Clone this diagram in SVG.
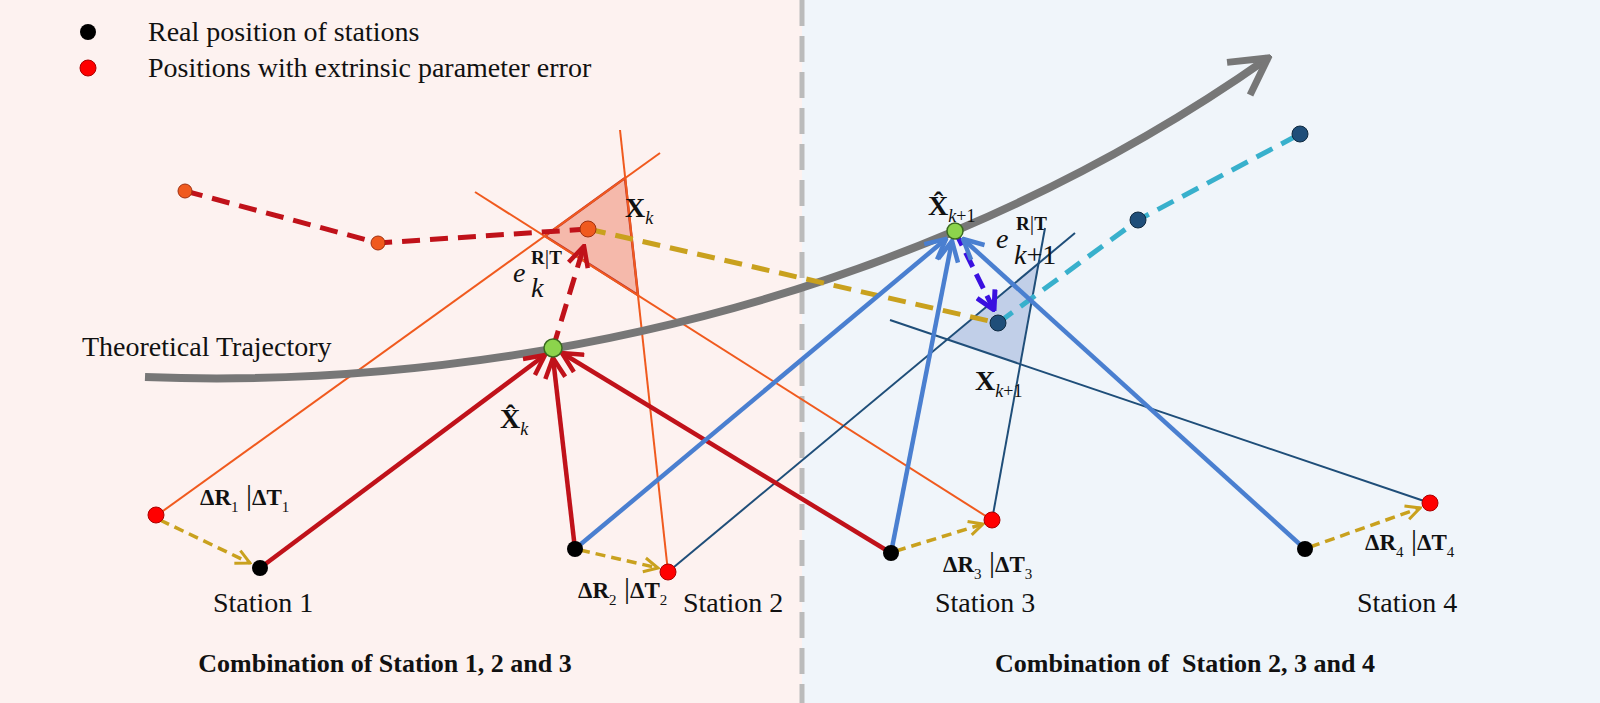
<svg xmlns="http://www.w3.org/2000/svg" width="1600" height="703" viewBox="0 0 1600 703">
<style>
.t{font-family:"Liberation Serif",serif;font-size:28px;fill:#111}
.b{font-family:"Liberation Serif",serif;font-weight:bold;fill:#111}
.i{font-style:italic}
.thinO{stroke:#f05a1e;stroke-width:2;fill:none}
.thinN{stroke:#1f4e79;stroke-width:2;fill:none}
.red{stroke:#c0121a;stroke-width:4.5;fill:none;marker-end:url(#mr)}
.blue{stroke:#4a7fd0;stroke-width:4.5;fill:none;marker-end:url(#mb)}
.gold{stroke:#c9a11e;stroke-width:3.5;stroke-dasharray:10 6;fill:none;marker-end:url(#mg)}
</style>
<defs>
<marker id="mr" viewBox="-22 -12 24 24" markerWidth="24" markerHeight="24" refX="0" refY="0" orient="auto" markerUnits="userSpaceOnUse"><path d="M-20,-10 L0,0 L-20,10" fill="none" stroke="#c0121a" stroke-width="4.5"/></marker>
<marker id="mb" viewBox="-22 -12 24 24" markerWidth="24" markerHeight="24" refX="0" refY="0" orient="auto" markerUnits="userSpaceOnUse"><path d="M-20,-10 L0,0 L-20,10" fill="none" stroke="#4a7fd0" stroke-width="4.5"/></marker>
<marker id="mg" viewBox="-16 -9 18 18" markerWidth="18" markerHeight="18" refX="0" refY="0" orient="auto" markerUnits="userSpaceOnUse"><path d="M-14,-7 L0,0 L-14,7" fill="none" stroke="#c9a11e" stroke-width="3"/></marker>
<marker id="mv" viewBox="-22 -12 24 24" markerWidth="24" markerHeight="24" refX="0" refY="0" orient="auto" markerUnits="userSpaceOnUse"><path d="M-18,-10 L0,0 L-18,10" fill="none" stroke="#3a10e0" stroke-width="5"/></marker>
<marker id="mgr" viewBox="-40 -24 44 48" markerWidth="44" markerHeight="48" refX="0" refY="0" orient="auto" markerUnits="userSpaceOnUse"><path d="M-36,-20 L0,0 L-36,20" fill="none" stroke="#777" stroke-width="7"/></marker>
</defs>
<rect x="0" y="0" width="802" height="703" fill="#fdf2f0"/>
<rect x="802" y="0" width="798" height="703" fill="#f0f5fa"/>
<line x1="802" y1="0" x2="802" y2="703" stroke="#bbb" stroke-width="5" stroke-dasharray="26 10"/>

<g id="legend">
<circle cx="88" cy="32" r="8" fill="#000"/>
<text class="t" x="148" y="41">Real position of stations</text>
<circle cx="88" cy="68" r="8" fill="#f00" stroke="#a00" stroke-width="1"/>
<text class="t" x="148" y="77">Positions with extrinsic parameter error</text>
</g>

<g id="triangles">
<polygon points="625,178 545,236 638,295" fill="#f4b0a0" opacity="0.85" stroke="#b01010" stroke-width="2.5"/>
<polygon points="1039,263 947,339 1020,364" fill="#b8c8e4" opacity="0.85"/>
</g>

<g id="connectors">
<line class="thinO" x1="156" y1="516" x2="660" y2="153"/>
<line class="thinO" x1="668" y1="572" x2="620" y2="130"/>
<line class="thinO" x1="475" y1="192" x2="992" y2="520"/>
<line class="thinN" x1="668" y1="572" x2="1075" y2="233"/>
<line class="thinN" x1="992" y1="520" x2="1045" y2="228"/>
<line class="thinN" x1="1430" y1="503" x2="890" y2="320"/>
<path d="M145,377 C350,385 650,360 955,231 C1080,178 1180,120 1268,58" fill="none" stroke="#777" stroke-width="8" marker-end="url(#mgr)"/>
<polyline points="185,191 378,243 588,229" fill="none" stroke="#c0121a" stroke-width="5" stroke-dasharray="18 10"/>
<line x1="588" y1="229" x2="998" y2="323" stroke="#c9a11e" stroke-width="5" stroke-dasharray="18 10"/>
<polyline points="998,323 1138,220 1300,134" fill="none" stroke="#38b0cc" stroke-width="5" stroke-dasharray="18 10"/>
<line x1="553" y1="348" x2="584" y2="246" stroke="#c0121a" stroke-width="5" stroke-dasharray="18 10" marker-end="url(#mr)"/>
<line x1="955" y1="231" x2="994" y2="310" stroke="#3a10e0" stroke-width="5" stroke-dasharray="16 8" marker-end="url(#mv)"/>
<line class="red" x1="260" y1="568" x2="545" y2="355"/>
<line class="red" x1="575" y1="549" x2="553" y2="358"/>
<line class="red" x1="891" y1="553" x2="562" y2="353"/>
<line class="blue" x1="575" y1="549" x2="946" y2="239"/>
<line class="blue" x1="891" y1="553" x2="952" y2="241"/>
<line class="blue" x1="1305" y1="549" x2="963" y2="239"/>
<line class="gold" x1="160" y1="520" x2="250" y2="563"/>
<line class="gold" x1="580" y1="550" x2="658" y2="568"/>
<line class="gold" x1="896" y1="551" x2="983" y2="524"/>
<line class="gold" x1="1310" y1="547" x2="1420" y2="508"/>
</g>

<g id="points">
<circle cx="185" cy="191" r="7" fill="#f05a1e" stroke="#a03010"/>
<circle cx="378" cy="243" r="7" fill="#f05a1e" stroke="#a03010"/>
<circle cx="588" cy="229" r="8" fill="#f05a1e" stroke="#a03010"/>
<circle cx="553" cy="348" r="9" fill="#8cd44c" stroke="#3a6a20" stroke-width="1.5"/>
<circle cx="955" cy="231" r="8" fill="#8cd44c" stroke="#3a6a20" stroke-width="1.5"/>
<circle cx="998" cy="323" r="8" fill="#1f4e79" stroke="#102a40"/>
<circle cx="1138" cy="220" r="8" fill="#1f4e79" stroke="#102a40"/>
<circle cx="1300" cy="134" r="8" fill="#1f4e79" stroke="#102a40"/>
</g>

<g id="station1"><circle cx="156" cy="515" r="8" fill="#f00" stroke="#a00"/><circle cx="260" cy="568" r="8" fill="#000"/>
<text class="t" x="213" y="612">Station 1</text></g>
<g id="station2"><circle cx="575" cy="549" r="8" fill="#000"/><circle cx="668" cy="572" r="8" fill="#f00" stroke="#a00"/>
<text class="t" x="683" y="612">Station 2</text></g>
<g id="station3"><circle cx="891" cy="553" r="8" fill="#000"/><circle cx="992" cy="520" r="8" fill="#f00" stroke="#a00"/>
<text class="t" x="935" y="612">Station 3</text></g>
<g id="station4"><circle cx="1305" cy="549" r="8" fill="#000"/><circle cx="1430" cy="503" r="8" fill="#f00" stroke="#a00"/>
<text class="t" x="1357" y="612">Station 4</text></g>

<g id="labels">
<text class="t" x="82" y="356">Theoretical Trajectory</text>
<text class="b" x="385" y="672" font-size="26" text-anchor="middle">Combination of Station 1, 2 and 3</text>
<text class="b" x="1185" y="672" font-size="26" text-anchor="middle" xml:space="preserve">Combination of  Station 2, 3 and 4</text>
<text class="b" x="200" y="505" font-size="23">ΔR<tspan font-size="15" dy="7" font-weight="normal">1</tspan><tspan dy="-7" font-weight="normal" font-size="30"> |</tspan>ΔT<tspan font-size="15" dy="7" font-weight="normal">1</tspan></text>
<text class="b" x="578" y="598" font-size="23">ΔR<tspan font-size="15" dy="7" font-weight="normal">2</tspan><tspan dy="-7" font-weight="normal" font-size="30"> |</tspan>ΔT<tspan font-size="15" dy="7" font-weight="normal">2</tspan></text>
<text class="b" x="943" y="572" font-size="23">ΔR<tspan font-size="15" dy="7" font-weight="normal">3</tspan><tspan dy="-7" font-weight="normal" font-size="30"> |</tspan>ΔT<tspan font-size="15" dy="7" font-weight="normal">3</tspan></text>
<text class="b" x="1365" y="550" font-size="23">ΔR<tspan font-size="15" dy="7" font-weight="normal">4</tspan><tspan dy="-7" font-weight="normal" font-size="30"> |</tspan>ΔT<tspan font-size="15" dy="7" font-weight="normal">4</tspan></text>
<text class="b" x="625" y="217" font-size="28">X<tspan class="i" font-weight="normal" font-size="18" dy="7">k</tspan></text>
<text class="b" x="975" y="390" font-size="28">X<tspan class="i" font-weight="normal" font-size="18" dy="7">k</tspan><tspan font-weight="normal" font-size="18">+1</tspan></text>
<text class="b" x="500" y="428" font-size="28">X̂<tspan class="i" font-weight="normal" font-size="18" dy="7">k</tspan></text>
<text class="b" x="928" y="215" font-size="28">X̂<tspan class="i" font-weight="normal" font-size="18" dy="7">k</tspan><tspan font-weight="normal" font-size="18">+1</tspan></text>
<text class="t i" x="513" y="282" font-size="36">e</text>
<text class="t i" x="531" y="297" font-size="19">k</text>
<text class="b" x="531" y="264" font-size="19">R<tspan font-weight="normal" font-size="22">|</tspan>T</text>
<text class="t i" x="996" y="248" font-size="36">e</text>
<text class="t" x="1014" y="264" font-size="19"><tspan class="i">k</tspan>+1</text>
<text class="b" x="1016" y="230" font-size="19">R<tspan font-weight="normal" font-size="22">|</tspan>T</text>
</g>
</svg>
